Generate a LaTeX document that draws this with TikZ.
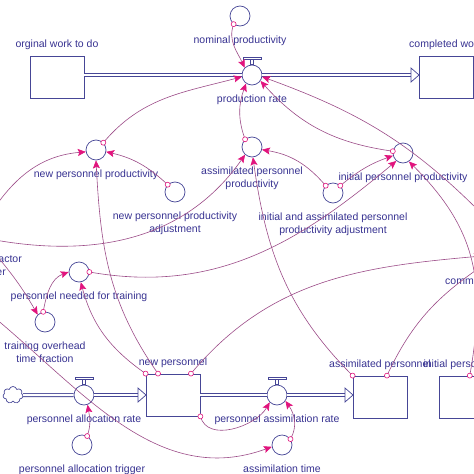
\documentclass[tikz,border=0pt]{standalone}
\usepackage{fontspec}
\setmainfont{Liberation Sans}
\usetikzlibrary{arrows.meta,shapes.symbols,calc}
\definecolor{stockblue}{RGB}{70,70,150}
\definecolor{textblue}{RGB}{55,50,145}
\definecolor{linkpurple}{RGB}{155,75,135}
\definecolor{headpink}{RGB}{225,20,125}
\tikzset{
  stock/.style={draw=stockblue, line width=0.8pt, minimum width=54pt, minimum height=42pt, inner sep=0pt},
  aux/.style={circle, draw=stockblue, line width=0.7pt, fill=white, minimum size=20pt, inner sep=0pt},
  lbl/.style={text=textblue, font=\fontsize{10.5}{13}\selectfont, align=center, inner sep=0pt},
  lblabove/.style={lbl, yshift=6pt},
  lblbelow/.style={lbl, yshift=-9.5pt},
  pipe/.style={draw=stockblue, double=white, double distance=2.4pt, line width=0.8pt},
  link/.style={draw=linkpurple, line width=0.6pt, -{Stealth[length=8pt,width=7pt,inset=1.5pt,color=headpink]}},
  tailmark/.style={circle, draw=headpink, line width=0.6pt, fill=white, minimum size=5pt, inner sep=0pt},
}
\begin{document}
\begin{tikzpicture}[x=1pt,y=-1pt]
  \useasboundingbox (0,0) rectangle (474,474);
  \clip (0,0) rectangle (474,474);

  % 存量
  \node[stock, label={[lblabove]above:orginal work to do}] (OW) at (57,77) {};
  \node[stock, label={[lblabove]above:completed work}] (CW) at (446,77) {};
  \node[stock, label={[lblabove]above:new personnel}] (NP) at (173,395) {};
  \node[stock, label={[lblabove]above:assimilated personnel}] (AP) at (380,397) {};
  \node[stock, label={[lblabove,xshift=-6pt]above:initial personnel}] (IP) at (466,397) {};
  \node[cloud, cloud puffs=7, aspect=1.1, draw=stockblue, line width=0.7pt, minimum width=20pt, minimum height=17pt] (SRC) at (13,395) {};

  % 流量
  \node[aux, label={[lblbelow]below:production rate}] (PR) at (252,75) {};
  \node[aux, label={[lblbelow]below:personnel allocation rate}] (PAR) at (84,395) {};
  \node[aux, label={[lblbelow]below:personnel assimilation rate}] (PASR) at (277,395) {};

  \coordinate (OWo) at (84,75);
  \coordinate (CWi) at (419,75);
  \coordinate (NPi) at (146,395);
  \coordinate (NPo) at (200,395);
  \coordinate (APi) at (353,395);
  \draw[pipe] (OWo) -- (PR.west);
  \draw[pipe] (PR.east) -- ++(149,0);
  \draw[pipe] (SRC.east) -- (PAR.west);
  \draw[pipe] (PAR.east) -- ++(44,0);
  \draw[pipe] (NPo) -- (PASR.west);
  \draw[pipe] (PASR.east) -- ++(58,0);
  \foreach \p in {CWi,NPi,APi}
    \draw[stockblue, line width=0.7pt, fill=white] (\p) -- ++(-8,-7) -- ++(0,14) -- cycle;
  \foreach \v in {PR,PAR,PASR}{
    \draw[stockblue, line width=0.6pt, fill=white] ($(\v.north)+(-1.5,0)$) rectangle ($(\v.north)+(1.5,-5)$);
    \draw[stockblue, line width=0.6pt, fill=white] ($(\v.north)+(-9,-5)$) rectangle ($(\v.north)+(9,-7.5)$);
  }

  % 辅助变量
  \node[aux, label={[lblbelow]below:nominal productivity}] (NOMP) at (240,16) {};
  \node[aux, label={[lblbelow]below:new personnel productivity}] (NPP) at (96,150) {};
  \node[aux, label={[lblbelow]below:new personnel productivity\\adjustment}] (NPPA) at (175,192) {};
  \node[aux, label={[lblbelow]below:assimilated personnel\\productivity}] (APP) at (252,147) {};
  \node[aux, label={[lblbelow]below:initial and assimilated personnel\\productivity adjustment}] (IAPA) at (333,193) {};
  \node[aux, label={[lblbelow]below:initial personnel productivity}] (IPP) at (403,153) {};
  \node[aux, label={[lblbelow]below:personnel needed for training}] (PNFT) at (79,272) {};
  \node[aux, label={[lblbelow]below:training overhead\\time fraction}] (TOF) at (45,322) {};
  \node[aux, label={[lblbelow]below:personnel allocation trigger}] (PAT) at (82,445) {};
  \node[aux, label={[lblbelow]below:assimilation time}] (AT) at (282,445) {};
  \node[lbl, anchor=east] (FAC1) at (22,259) {actor};
  \node[lbl, anchor=east] (FAC2) at (6,273) {er};
  \node[lbl, anchor=west] (COMM) at (445,282) {comm};

  % 图外端点
  \coordinate (L1) at (-5,207);
  \coordinate (L2) at (-5,318);
  \coordinate (L3) at (-3,256);
  \coordinate (L4) at (-5,240);
  \coordinate (R1) at (480,212);
  \coordinate (R2) at (482,256);
  \coordinate (R3) at (482,266);

  % 连线
  \draw[link] (NOMP.232) node[tailmark]{} to[out=250,in=115] (PR.135);
  \draw[link] (NPP.45) node[tailmark]{} to[out=50,in=195] (PR.190);
  \draw[link] (APP.132) node[tailmark]{} to[out=110,in=250] (PR.235);
  \draw[link] (IPP.170) node[tailmark]{} to[bend left=20] (PR.-35);
  \draw[link] (R1) to[out=135,in=-20] (PR.-10);
  \draw[link] (L1) to[out=55,in=185] (NPP.190);
  \draw[link] (NP.125) node[tailmark]{} to[out=125,in=-87] (NPP.south);
  \draw[link] (NPPA.135) node[tailmark]{} to[bend right=15] (NPP.-10);
  \draw[link] (L4) to[out=-10,in=235] (APP.228);
  \draw[link] (IAPA.135) node[tailmark]{} to[bend right=20] (APP.-15);
  \draw[link] (AP.north west) node[tailmark]{} to[out=135,in=-82] (APP.-85);
  \draw[link] (IAPA.45) node[tailmark]{} to[bend left=10] (IPP.195);
  \draw[link] (PNFT.east) node[tailmark]{} to[out=-10,in=220] (IPP.230);
  \draw[link] (IP.80) node[tailmark]{} to[out=80,in=-45,looseness=1.1] (IPP.-55);
  \draw[link] (TOF.100) node[tailmark]{} to[out=80,in=200] (PNFT.180);
  \draw[link] (NP.north west) node[tailmark]{} to[out=145,in=-75] (PNFT.-80);
  \draw[link] (L3) to[bend left=5] (TOF.135);
  \draw[link] (PAT.60) node[tailmark]{} to[out=70,in=-80] (PAR.-70);
  \draw[link] (NP.south east) node[tailmark]{} to[out=-75,in=240] (PASR.225);
  \draw[link] (AT.35) node[tailmark]{} to[out=60,in=-55] (PASR.-35);
  \draw[link] (L2) to[out=-40,in=200] (AT.190);
  \draw[link] (NP.50) node[tailmark]{} to[out=50,in=185] (R2);
  \draw[link] (AP.72) node[tailmark]{} to[out=65,in=215] (R3);

\end{tikzpicture}
\end{document}
